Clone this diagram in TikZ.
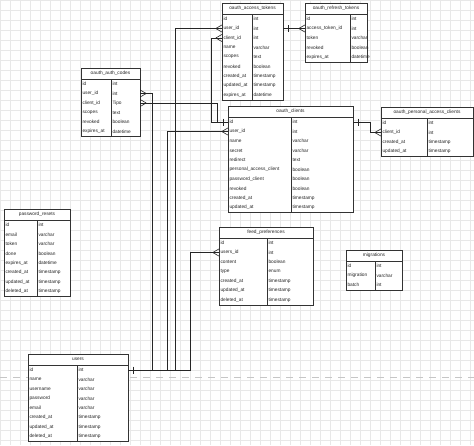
\documentclass[tikz,border=0pt]{standalone}
\usepackage{fontspec}
\setmainfont{Liberation Sans}
\usepackage{tikz}
\usetikzlibrary{positioning}

\tikzset{
  tabbox/.style = {draw = black!80, line width = 0.6pt},
  tabtitle/.style = {font = \fontsize{4.8}{5.5}\selectfont, text = black!85, inner sep = 0pt},
  rowbox/.style = {draw = none, inner sep = 0pt, minimum height = 9.5pt},
  field/.style = {anchor = west, inner sep = 1.5pt, font = \fontsize{4.8}{5.5}\selectfont, text = black!85},
  conn/.style = {draw = black!85, line width = 0.6pt},
  gridline/.style = {draw = gray!18, line width = 0.3pt}
}

% #1 name, #2 x, #3 y, #4 width, #5 divider, #6 rows, #7 title, #8 fields
\newcommand{\ertable}[8]{%
  \filldraw[tabbox, fill = white] (#2,#3) rectangle ({#2+#4},{#3+11.5+#6*9.5});
  \draw[tabbox, line width = 0.8pt] (#2,{#3+11}) -- ({#2+#4},{#3+11});
  \draw[tabbox] ({#2+#5},{#3+11}) -- ({#2+#5},{#3+11.5+#6*9.5});
  \node[tabtitle] (#1) at ({#2+#4/2},{#3+5.5}) {#7};
  \foreach \fname/\ftype [count=\i] in {#8} {
    \node[rowbox, minimum width = #4] (#1-\i) at ({#2+#4/2},{#3+16+(\i-1)*9.5}) {};
    \node[field] at (#1-\i.west) {\fname};
    \node[field] at ([xshift = #5]#1-\i.west) {\ftype};
  }
}
% crow's foot and bar marks, #2 = side (-1 left, 1 right)
\newcommand{\crowfoot}[2]{\draw[conn] ([xshift = #2*6]#1) -- ([yshift = 3.5]#1) ([xshift = #2*6]#1) -- ([yshift = -3.5]#1);}
\newcommand{\onetick}[2]{\draw[conn] ([xshift = #2*5]#1) +(0,-3.5) -- +(0,3.5);}

\begin{document}
\begin{tikzpicture}[x = 1pt, y = -1pt]
\useasboundingbox[fill = white] (0,0) rectangle (474,445);
\draw[gridline, step = 10pt] (0,445) grid (474,0);
\draw[gray!45, line width = 0.4pt, dash pattern = on 7pt off 6pt] (0,377) -- (474,377);

\ertable{at}{222}{3}{61}{30}{9}{oauth\_access\_tokens}{id/int, user\_id/int, client\_id/int, name/varchar, scopes/text, revoked/boolean, created\_at/timestamp, updated\_at/timestamp, expires\_at/datetime}
\ertable{rt}{305}{3}{62}{45}{5}{oauth\_refresh\_tokens}{id/int, access\_token\_id/int, token/varchar, revoked/boolean, expires\_at/datetime}
\ertable{ac}{81}{68}{59}{30}{6}{oauth\_auth\_codes}{id/int, user\_id/int, client\_id/Tipo, scopes/text, revoked/boolean, expires\_at/datetime}
\ertable{cl}{228}{106}{125}{63}{10}{oauth\_clients}{id/int, user\_id/int, name/varchar, secret/varchar, redirect/text, personal\_access\_client/boolean, password\_client/boolean, revoked/boolean, created\_at/timestamp, updated\_at/timestamp}
\ertable{pc}{381}{107}{92}{46}{4}{oauth\_personal\_access\_clients}{id/int, client\_id/int, created\_at/timestamp, updated\_at/timestamp}
\ertable{pr}{4}{209}{66}{33}{8}{password\_resets}{id/int, email/varchar, token/varchar, done/boolean, expires\_at/datetime, created\_at/timestamp, updated\_at/timestamp, deleted\_at/timestamp}
\ertable{fp}{219}{227}{94}{48}{7}{feed\_preferences}{id/int, users\_id/int, content/boolean, type/enum, created\_at/timestamp, updated\_at/timestamp, deleted\_at/timestamp}
\ertable{mg}{346}{250}{56}{29}{3}{migrations}{id/int, migration/varchar, batch/int}
\ertable{us}{28}{354}{100}{49}{8}{users}{id/int, name/varchar, username/varchar, password/varchar, email/varchar, created\_at/timestamp, updated\_at/timestamp, deleted\_at/timestamp}

% bends
\coordinate (bus-ac) at (152,0);
\coordinate (bus-cl) at (167,0);
\coordinate (bus-at) at (175,0);
\coordinate (bus-fp) at (190,0);
\coordinate (bus-atc) at (211,0);
\coordinate (bus-acc) at (217,0);
\coordinate (bus-pc) at (370,0);
\coordinate (rt-in) at (at-1.east |- rt-2.west);

% users
\draw[conn] (us-1.east) -| (bus-ac |- ac-2.east) -- (ac-2.east);
\draw[conn] (us-1.east) -| (bus-cl |- cl-2.west) -- (cl-2.west);
\draw[conn] (us-1.east) -| (bus-at |- at-2.west) -- (at-2.west);
\draw[conn] (us-1.east) -| (bus-fp |- fp-2.west) -- (fp-2.west);
\onetick{us-1.east}{1}
% clients
\draw[conn] (cl-1.west) -| (bus-atc |- at-3.west) -- (at-3.west);
\draw[conn] (cl-1.west) -| (bus-acc |- ac-3.east) -- (ac-3.east);
\onetick{cl-1.west}{-1}
\draw[conn] (cl-1.east) -| (bus-pc |- pc-2.west) -- (pc-2.west);
\onetick{cl-1.east}{1}
% tokens
\draw[conn] (rt-in) -- (rt-2.west);
\onetick{rt-in}{1}

\crowfoot{ac-2.east}{1}
\crowfoot{ac-3.east}{1}
\crowfoot{at-2.west}{-1}
\crowfoot{at-3.west}{-1}
\crowfoot{cl-2.west}{-1}
\crowfoot{fp-2.west}{-1}
\crowfoot{rt-2.west}{-1}
\crowfoot{pc-2.west}{-1}
\end{tikzpicture}
\end{document}
